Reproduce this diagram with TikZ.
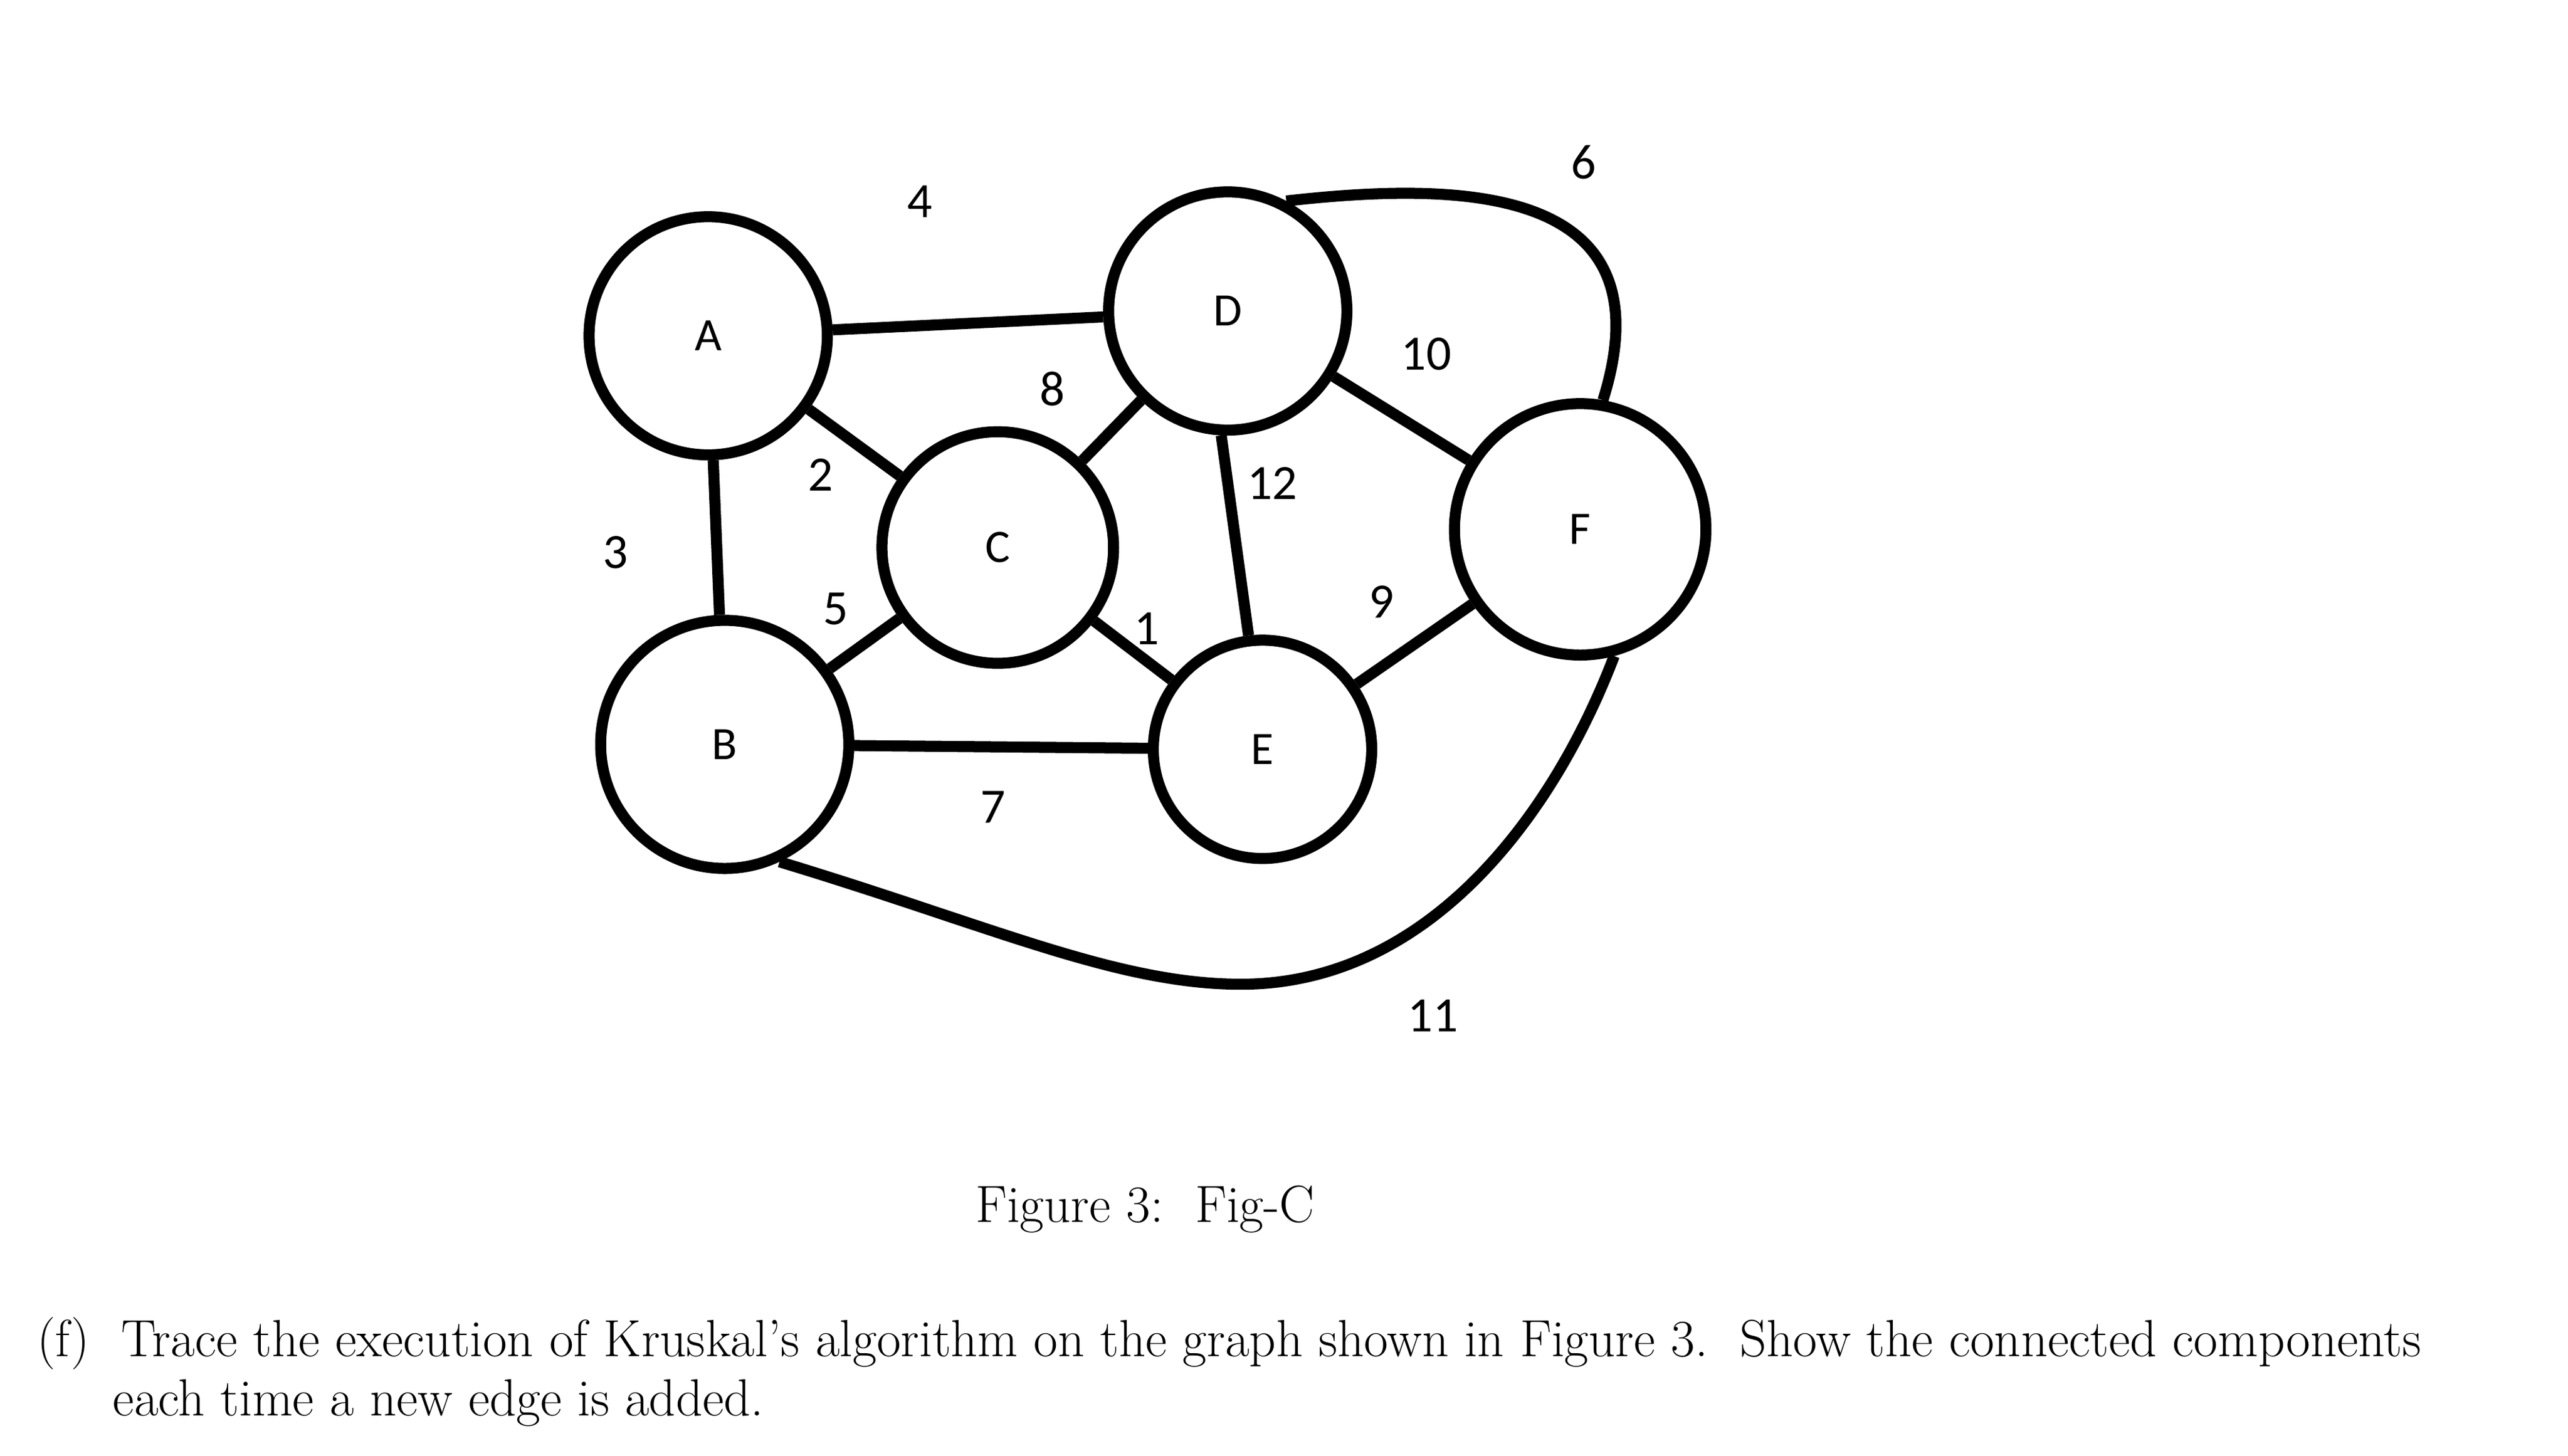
\documentclass[tikz,border=0pt]{standalone}
\usepackage{fontspec}
\newfontfamily\lab{Carlito}
\begin{document}
\begin{tikzpicture}[
  vert/.style={circle,draw,line width=3.8pt,inner sep=0pt,font=\lab\fontsize{16}{19}\selectfont},
  edge/.style={line width=3.8pt},
  wt/.style={font=\lab\fontsize{17}{20}\selectfont},
  txt/.style={font=\fontsize{18}{21}\selectfont,anchor=base west,inner sep=0pt}]
\useasboundingbox (0,0) rectangle (31.04,-17.6);
\node[vert,minimum size=2.88cm] (A) at (8.56,-4.06) {A};
\node[vert,minimum size=2.88cm] (D) at (14.84,-3.76) {D};
\node[vert,minimum width=2.8cm,minimum height=2.75cm] (C) at (12.06,-6.62) {C};
\node[vert,minimum size=3.04cm] (F) at (19.1,-6.4) {F};
\node[vert,minimum size=3.0cm] (B) at (8.76,-9.0) {B};
\node[vert,minimum width=2.64cm,minimum height=2.6cm] (E) at (15.26,-9.06) {E};
\draw[edge] (A) -- (D);
\draw[edge] (A) -- (C);
\draw[edge] (A) -- (B);
\draw[edge] (C) -- (D);
\draw[edge] (D.-93) -- (E.97);
\draw[edge] (D) -- (F);
\draw[edge] (C) -- (E);
\draw[edge] (B) -- (C);
\draw[edge] (B) -- (E);
\draw[edge] (E) -- (F);
\draw[edge] (D.62) .. controls (17.6,-2.2) and (20.2,-2.2) .. (F.80);
\draw[edge] (B.-65) .. controls (12,-11.2) and (13.5,-11.9) .. (15,-11.9) .. controls (17.3,-11.9) and (18.8,-9.8) .. (F.-75);
\node[wt] (w4) at (11.12,-2.44) {4};
\node[wt] (w6) at (19.14,-1.96) {6};
\node[wt] (w10) at (17.24,-4.28) {10};
\node[wt] (w8) at (12.72,-4.7) {8};
\node[wt] (w2) at (9.92,-5.74) {2};
\node[wt] (w12) at (15.38,-5.84) {12};
\node[wt] (w3) at (7.44,-6.68) {3};
\node[wt] (w5) at (10.1,-7.36) {5};
\node[wt] (w1) at (13.86,-7.6) {1};
\node[wt] (w9) at (16.7,-7.28) {9};
\node[wt] (w7) at (12.0,-9.76) {7};
\node[wt] (w11) at (17.32,-12.28) {11};
\node[font=\fontsize{18}{21}\selectfont] (cap) at (13.84,-14.62) {Figure 3:\ \ Fig-C};
\node[txt] (f1) at (0.44,-16.4) {(f)\ \ Trace the execution of Kruskal's algorithm on the graph shown in Figure 3.\ \ Show the connected components};
\node[txt] (f2) at (1.36,-17.12) {each time a new edge is added.};
\end{tikzpicture}
\end{document}
